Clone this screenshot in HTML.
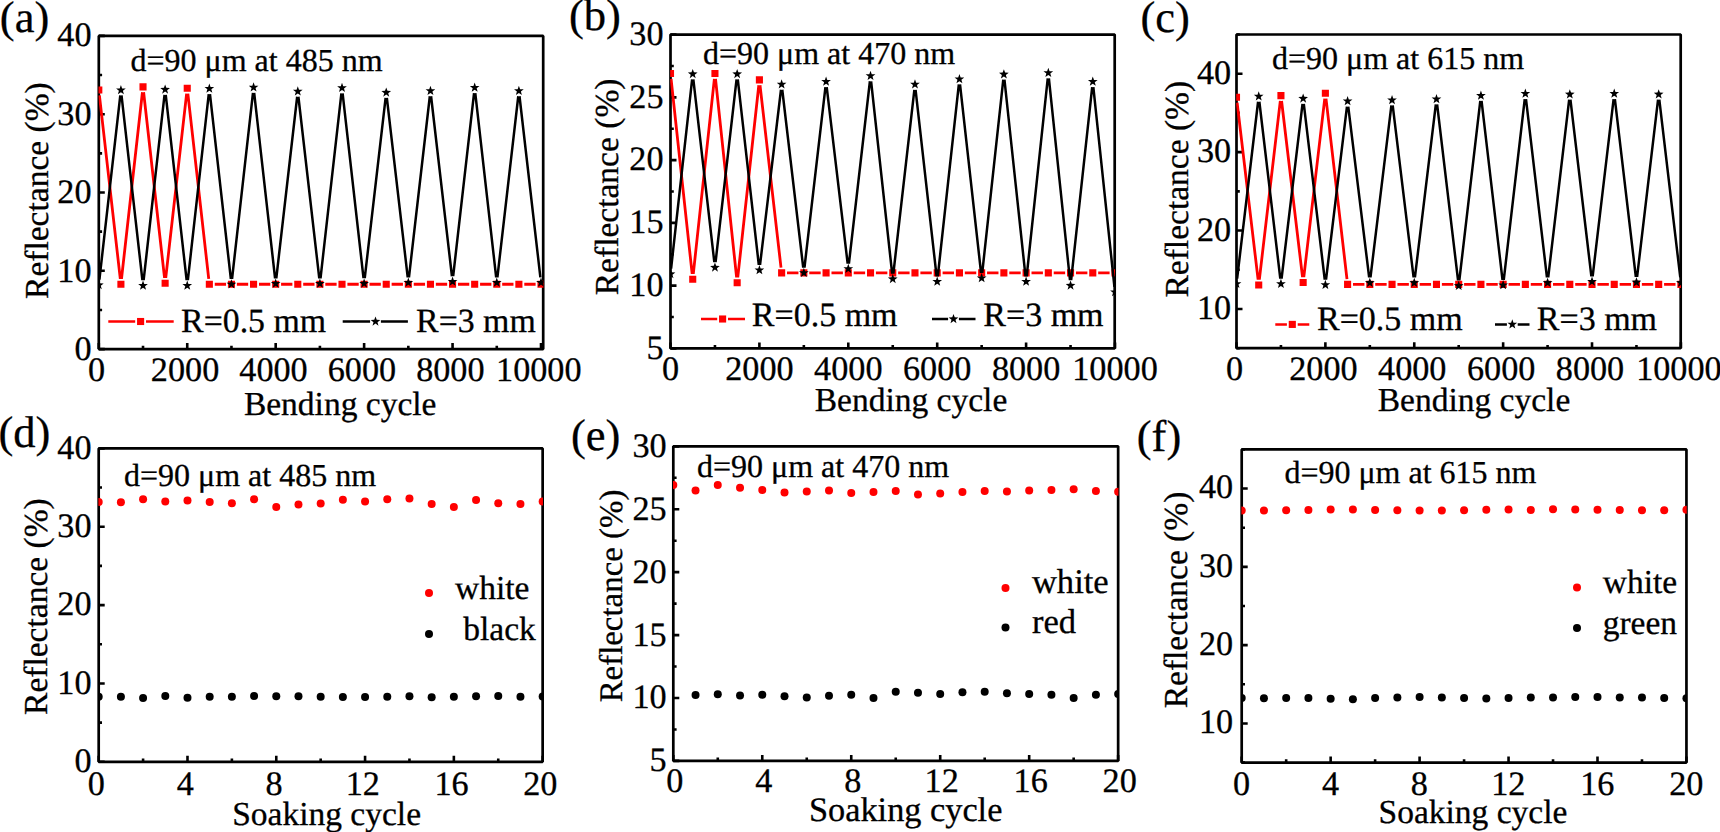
<!DOCTYPE html>
<html lang="en"><head><meta charset="utf-8"><title>Reflectance vs bending and soaking cycles</title>
<style>html,body{margin:0;padding:0;background:#fff;overflow:hidden}svg{display:block}text{font-family:'Liberation Serif', 'Times New Roman', serif;fill:#000;stroke:#000;stroke-width:0.3px}</style>
</head><body>
<svg width="1720" height="832" viewBox="0 0 1720 832" shape-rendering="geometricPrecision" text-rendering="geometricPrecision">
<rect width="1720" height="832" fill="#fff"/>
<g>
<clipPath id="c1"><rect x="98.5" y="35.6" width="445" height="313.8"/></clipPath>
<path d="M98.8 349.1V343.1M187.24 349.1V343.1M275.68 349.1V343.1M364.12 349.1V343.1M452.56 349.1V343.1M541 349.1V343.1M143.02 349.1V345.8M231.46 349.1V345.8M319.9 349.1V345.8M408.34 349.1V345.8M496.78 349.1V345.8M98.8 349.1H104.8M98.8 270.8H104.8M98.8 192.5H104.8M98.8 114.2H104.8M98.8 35.9H104.8M98.8 309.95H102.1M98.8 231.65H102.1M98.8 153.35H102.1M98.8 75.05H102.1" stroke="#000" stroke-width="2.6" fill="none"/>
<rect x="98.8" y="35.9" width="444.4" height="313.2" fill="none" stroke="#000" stroke-width="2.7" stroke-linejoin="bevel"/>
<g clip-path="url(#c1)">
<path d="M99.41 95.37L120.3 278.88M121.51 278.88L142.42 92.22M143.62 92.22L164.53 277.83M165.74 277.83L186.63 93.57M187.85 93.57L208.74 278.88M214.75 284.25L226.06 284.25M236.86 284.25L248.17 284.25M258.97 284.25L270.28 284.25M281.08 284.25L292.39 284.25M303.19 284.25L314.5 284.25M325.3 284.25L336.61 284.25M347.41 284.25L358.72 284.25M369.52 284.25L380.83 284.25M391.63 284.25L402.94 284.25M413.74 284.25L425.05 284.25M435.85 284.25L447.16 284.25M457.96 284.25L469.27 284.25M480.07 284.25L491.38 284.25M502.18 284.25L513.49 284.25M524.29 284.25L535.6 284.25" stroke="#ff0000" stroke-width="2.8" fill="none"/>
<path d="M95.25 86.45h7.1v7.1h-7.1zM117.36 280.7h7.1v7.1h-7.1zM139.47 83.3h7.1v7.1h-7.1zM161.58 279.65h7.1v7.1h-7.1zM183.69 84.65h7.1v7.1h-7.1zM205.8 280.7h7.1v7.1h-7.1zM227.91 280.7h7.1v7.1h-7.1zM250.02 280.7h7.1v7.1h-7.1zM272.13 280.7h7.1v7.1h-7.1zM294.24 280.7h7.1v7.1h-7.1zM316.35 280.7h7.1v7.1h-7.1zM338.46 280.7h7.1v7.1h-7.1zM360.57 280.7h7.1v7.1h-7.1zM382.68 280.7h7.1v7.1h-7.1zM404.79 280.7h7.1v7.1h-7.1zM426.9 280.7h7.1v7.1h-7.1zM449.01 280.7h7.1v7.1h-7.1zM471.12 280.7h7.1v7.1h-7.1zM493.23 280.7h7.1v7.1h-7.1zM515.34 280.7h7.1v7.1h-7.1zM537.45 280.7h7.1v7.1h-7.1z" fill="#ff0000"/>
<path d="M99.41 279.63L120.3 95.47M121.52 95.47L142.41 280.23M143.63 280.23L164.52 94.87M165.74 94.87L186.63 280.23M187.84 280.23L208.75 94.07M209.96 94.07L230.85 278.88M232.06 278.88L252.97 92.77M254.17 92.77L275.08 278.33M276.3 278.34L297.17 96.76M298.41 96.76L319.28 278.34M320.51 278.33L341.4 93.27M342.62 93.27L363.51 278.13M364.74 278.14L385.61 97.86M386.85 97.86L407.72 277.29M408.96 277.29L429.83 96.26M431.07 96.26L451.94 276.24M453.17 276.23L474.06 93.02M475.28 93.02L496.17 277.28M497.4 277.29L518.27 96.26M519.51 96.26L540.38 277.29" stroke="#000000" stroke-width="2.5" fill="none"/>
<path d="M98.8 279.9L100.03 283.31L103.65 283.42L100.79 285.65L101.8 289.13L98.8 287.09L95.8 289.13L96.81 285.65L93.95 283.42L97.57 283.31ZM120.91 85L122.14 88.41L125.76 88.52L122.9 90.75L123.91 94.23L120.91 92.19L117.91 94.23L118.92 90.75L116.06 88.52L119.68 88.41ZM143.02 280.5L144.25 283.91L147.87 284.02L145.01 286.25L146.02 289.73L143.02 287.69L140.02 289.73L141.03 286.25L138.17 284.02L141.79 283.91ZM165.13 84.4L166.36 87.81L169.98 87.92L167.12 90.15L168.13 93.63L165.13 91.59L162.13 93.63L163.14 90.15L160.28 87.92L163.9 87.81ZM187.24 280.5L188.47 283.91L192.09 284.02L189.23 286.25L190.24 289.73L187.24 287.69L184.24 289.73L185.25 286.25L182.39 284.02L186.01 283.91ZM209.35 83.6L210.58 87.01L214.2 87.12L211.34 89.35L212.35 92.83L209.35 90.79L206.35 92.83L207.36 89.35L204.5 87.12L208.12 87.01ZM231.46 279.15L232.69 282.56L236.31 282.67L233.45 284.9L234.46 288.38L231.46 286.34L228.46 288.38L229.47 284.9L226.61 282.67L230.23 282.56ZM253.57 82.3L254.8 85.71L258.42 85.82L255.56 88.05L256.57 91.53L253.57 89.49L250.57 91.53L251.58 88.05L248.72 85.82L252.34 85.71ZM275.68 278.6L276.91 282.01L280.53 282.12L277.67 284.35L278.68 287.83L275.68 285.79L272.68 287.83L273.69 284.35L270.83 282.12L274.45 282.01ZM297.79 86.3L299.02 89.71L302.64 89.82L299.78 92.05L300.79 95.53L297.79 93.49L294.79 95.53L295.8 92.05L292.94 89.82L296.56 89.71ZM319.9 278.6L321.13 282.01L324.75 282.12L321.89 284.35L322.9 287.83L319.9 285.79L316.9 287.83L317.91 284.35L315.05 282.12L318.67 282.01ZM342.01 82.8L343.24 86.21L346.86 86.32L344 88.55L345.01 92.03L342.01 89.99L339.01 92.03L340.02 88.55L337.16 86.32L340.78 86.21ZM364.12 278.4L365.35 281.81L368.97 281.92L366.11 284.15L367.12 287.63L364.12 285.59L361.12 287.63L362.13 284.15L359.27 281.92L362.89 281.81ZM386.23 87.4L387.46 90.81L391.08 90.92L388.22 93.15L389.23 96.63L386.23 94.59L383.23 96.63L384.24 93.15L381.38 90.92L385 90.81ZM408.34 277.55L409.57 280.96L413.19 281.07L410.33 283.3L411.34 286.78L408.34 284.74L405.34 286.78L406.35 283.3L403.49 281.07L407.11 280.96ZM430.45 85.8L431.68 89.21L435.3 89.32L432.44 91.55L433.45 95.03L430.45 92.99L427.45 95.03L428.46 91.55L425.6 89.32L429.22 89.21ZM452.56 276.5L453.79 279.91L457.41 280.02L454.55 282.25L455.56 285.73L452.56 283.69L449.56 285.73L450.57 282.25L447.71 280.02L451.33 279.91ZM474.67 82.55L475.9 85.96L479.52 86.07L476.66 88.3L477.67 91.78L474.67 89.74L471.67 91.78L472.68 88.3L469.82 86.07L473.44 85.96ZM496.78 277.55L498.01 280.96L501.63 281.07L498.77 283.3L499.78 286.78L496.78 284.74L493.78 286.78L494.79 283.3L491.93 281.07L495.55 280.96ZM518.89 85.8L520.12 89.21L523.74 89.32L520.88 91.55L521.89 95.03L518.89 92.99L515.89 95.03L516.9 91.55L514.04 89.32L517.66 89.21ZM541 277.55L542.23 280.96L545.85 281.07L542.99 283.3L544 286.78L541 284.74L538 286.78L539.01 283.3L536.15 281.07L539.77 280.96Z" fill="#000000"/>
</g>
<text x="96.6" y="380.95" font-size="34.2" text-anchor="middle">0</text>
<text x="185.04" y="380.95" font-size="34.2" text-anchor="middle">2000</text>
<text x="273.48" y="380.95" font-size="34.2" text-anchor="middle">4000</text>
<text x="361.92" y="380.95" font-size="34.2" text-anchor="middle">6000</text>
<text x="450.36" y="380.95" font-size="34.2" text-anchor="middle">8000</text>
<text x="538.8" y="380.95" font-size="34.2" text-anchor="middle">10000</text>
<text x="91.5" y="359.85" font-size="34.2" text-anchor="end">0</text>
<text x="91.5" y="281.55" font-size="34.2" text-anchor="end">10</text>
<text x="91.5" y="203.25" font-size="34.2" text-anchor="end">20</text>
<text x="91.5" y="124.95" font-size="34.2" text-anchor="end">30</text>
<text x="91.5" y="45.85" font-size="34.2" text-anchor="end">40</text>
<text x="340.2" y="414.8" font-size="33.5" text-anchor="middle">Bending cycle</text>
<text transform="translate(47.7 190.6) rotate(-90)" font-size="33.5" text-anchor="middle">Reflectance (%)</text>
<text x="130.5" y="70.9" font-size="32" text-anchor="start">d=90 μm at 485 nm</text>
<text x="-0.15" y="32.15" font-size="44.5" text-anchor="start">(a)</text>
<path d="M108.3 321.5H135.2M146 321.5H173.7" stroke="#ff0000" stroke-width="2.5"/>
<rect x="137.05" y="317.95" width="7.1" height="7.1" fill="#ff0000"/>
<text x="181.1" y="331.5" font-size="33.85" text-anchor="start">R=0.5 mm</text>
<path d="M342.7 321.5H370.1M380.9 321.5H407.9" stroke="#000000" stroke-width="2.5"/>
<path d="M375.5 316.4L376.73 319.81L380.35 319.92L377.49 322.15L378.5 325.63L375.5 323.59L372.5 325.63L373.51 322.15L370.65 319.92L374.27 319.81Z" fill="#000000"/>
<text x="416.1" y="331.5" font-size="33.85" text-anchor="start">R=3 mm</text>
</g>
<g>
<clipPath id="c2"><rect x="670.2" y="34.3" width="444.8" height="314.4"/></clipPath>
<path d="M670.5 348.4V342.4M759.4 348.4V342.4M848.3 348.4V342.4M937.2 348.4V342.4M1026.1 348.4V342.4M1115 348.4V342.4M714.95 348.4V345.1M803.85 348.4V345.1M892.75 348.4V345.1M981.65 348.4V345.1M1070.55 348.4V345.1M670.5 348.4H676.5M670.5 285.64H676.5M670.5 222.88H676.5M670.5 160.12H676.5M670.5 97.36H676.5M670.5 34.6H676.5M670.5 317.02H673.8M670.5 254.26H673.8M670.5 191.5H673.8M670.5 128.74H673.8M670.5 65.98H673.8" stroke="#000" stroke-width="2.6" fill="none"/>
<rect x="670.5" y="34.6" width="444.2" height="313.8" fill="none" stroke="#000" stroke-width="2.7" stroke-linejoin="bevel"/>
<g clip-path="url(#c2)">
<path d="M671.08 78.87L692.15 273.93M693.3 273.93L714.37 78.87M715.52 78.87L736.6 277.43M737.76 277.43L758.81 85.27M760.02 85.26L781.01 267.54M787.02 272.9L798.45 272.9M809.25 272.9L820.68 272.9M831.48 272.9L842.9 272.9M853.7 272.9L865.12 272.9M875.92 272.9L887.35 272.9M898.15 272.9L909.58 272.9M920.38 272.9L931.8 272.9M942.6 272.9L954.02 272.9M964.82 272.9L976.25 272.9M987.05 272.9L998.48 272.9M1009.27 272.9L1020.7 272.9M1031.5 272.9L1042.92 272.9M1053.73 272.9L1065.15 272.9M1075.95 272.9L1087.38 272.9M1098.18 272.9L1109.6 272.9" stroke="#ff0000" stroke-width="2.8" fill="none"/>
<path d="M666.95 69.95h7.1v7.1h-7.1zM689.18 275.75h7.1v7.1h-7.1zM711.4 69.95h7.1v7.1h-7.1zM733.62 279.25h7.1v7.1h-7.1zM755.85 76.35h7.1v7.1h-7.1zM778.08 269.35h7.1v7.1h-7.1zM800.3 269.35h7.1v7.1h-7.1zM822.53 269.35h7.1v7.1h-7.1zM844.75 269.35h7.1v7.1h-7.1zM866.98 269.35h7.1v7.1h-7.1zM889.2 269.35h7.1v7.1h-7.1zM911.43 269.35h7.1v7.1h-7.1zM933.65 269.35h7.1v7.1h-7.1zM955.88 269.35h7.1v7.1h-7.1zM978.1 269.35h7.1v7.1h-7.1zM1000.33 269.35h7.1v7.1h-7.1zM1022.55 269.35h7.1v7.1h-7.1zM1044.78 269.35h7.1v7.1h-7.1zM1067 269.35h7.1v7.1h-7.1zM1089.23 269.35h7.1v7.1h-7.1zM1111.45 269.35h7.1v7.1h-7.1z" fill="#ff0000"/>
<path d="M671.1 268.63L692.13 79.37M693.34 79.36L714.33 262.14M715.57 262.14L736.56 79.36M737.78 79.37L758.79 264.83M760.04 264.84L780.98 89.76M782.26 89.76L803.22 267.54M804.47 267.54L825.45 87.06M826.71 87.06L847.66 263.54M848.92 263.54L869.91 81.26M871.11 81.27L892.16 273.63M893.36 273.63L914.36 89.77M915.58 89.77L936.6 276.33M937.79 276.33L958.84 84.47M960.02 84.47L981.05 272.83M982.24 272.83L1003.29 79.67M1004.45 79.67L1025.52 276.33M1026.67 276.33L1047.75 78.27M1048.89 78.27L1069.99 280.13M1071.14 280.13L1092.19 87.07M1093.34 87.07L1114.43 286.83" stroke="#000000" stroke-width="2.5" fill="none"/>
<path d="M670.5 268.9L671.73 272.31L675.35 272.42L672.49 274.65L673.5 278.13L670.5 276.09L667.5 278.13L668.51 274.65L665.65 272.42L669.27 272.31ZM692.73 68.9L693.95 72.31L697.58 72.42L694.71 74.65L695.72 78.13L692.73 76.09L689.73 78.13L690.74 74.65L687.87 72.42L691.5 72.31ZM714.95 262.4L716.18 265.81L719.8 265.92L716.94 268.15L717.95 271.63L714.95 269.59L711.95 271.63L712.96 268.15L710.1 265.92L713.72 265.81ZM737.17 68.9L738.4 72.31L742.03 72.42L739.16 74.65L740.17 78.13L737.17 76.09L734.18 78.13L735.19 74.65L732.32 72.42L735.95 72.31ZM759.4 265.1L760.63 268.51L764.25 268.62L761.39 270.85L762.4 274.33L759.4 272.29L756.4 274.33L757.41 270.85L754.55 268.62L758.17 268.51ZM781.62 79.3L782.85 82.71L786.48 82.82L783.61 85.05L784.62 88.53L781.62 86.49L778.63 88.53L779.64 85.05L776.77 82.82L780.4 82.71ZM803.85 267.8L805.08 271.21L808.7 271.32L805.84 273.55L806.85 277.03L803.85 274.99L800.85 277.03L801.86 273.55L799 271.32L802.62 271.21ZM826.08 76.6L827.3 80.01L830.93 80.12L828.06 82.35L829.07 85.83L826.08 83.79L823.08 85.83L824.09 82.35L821.22 80.12L824.85 80.01ZM848.3 263.8L849.53 267.21L853.15 267.32L850.29 269.55L851.3 273.03L848.3 270.99L845.3 273.03L846.31 269.55L843.45 267.32L847.07 267.21ZM870.52 70.8L871.75 74.21L875.38 74.32L872.51 76.55L873.52 80.03L870.52 77.99L867.53 80.03L868.54 76.55L865.67 74.32L869.3 74.21ZM892.75 273.9L893.98 277.31L897.6 277.42L894.74 279.65L895.75 283.13L892.75 281.09L889.75 283.13L890.76 279.65L887.9 277.42L891.52 277.31ZM914.98 79.3L916.2 82.71L919.83 82.82L916.96 85.05L917.97 88.53L914.98 86.49L911.98 88.53L912.99 85.05L910.12 82.82L913.75 82.71ZM937.2 276.6L938.43 280.01L942.05 280.12L939.19 282.35L940.2 285.83L937.2 283.79L934.2 285.83L935.21 282.35L932.35 280.12L935.97 280.01ZM959.42 74L960.65 77.41L964.28 77.52L961.41 79.75L962.42 83.23L959.42 81.19L956.43 83.23L957.44 79.75L954.57 77.52L958.2 77.41ZM981.65 273.1L982.88 276.51L986.5 276.62L983.64 278.85L984.65 282.33L981.65 280.29L978.65 282.33L979.66 278.85L976.8 276.62L980.42 276.51ZM1003.88 69.2L1005.1 72.61L1008.73 72.72L1005.86 74.95L1006.87 78.43L1003.88 76.39L1000.88 78.43L1001.89 74.95L999.02 72.72L1002.65 72.61ZM1026.1 276.6L1027.33 280.01L1030.95 280.12L1028.09 282.35L1029.1 285.83L1026.1 283.79L1023.1 285.83L1024.11 282.35L1021.25 280.12L1024.87 280.01ZM1048.33 67.8L1049.55 71.21L1053.18 71.32L1050.31 73.55L1051.32 77.03L1048.33 74.99L1045.33 77.03L1046.34 73.55L1043.47 71.32L1047.1 71.21ZM1070.55 280.4L1071.78 283.81L1075.4 283.92L1072.54 286.15L1073.55 289.63L1070.55 287.59L1067.55 289.63L1068.56 286.15L1065.7 283.92L1069.32 283.81ZM1092.78 76.6L1094 80.01L1097.63 80.12L1094.76 82.35L1095.77 85.83L1092.78 83.79L1089.78 85.83L1090.79 82.35L1087.92 80.12L1091.55 80.01ZM1115 287.1L1116.23 290.51L1119.85 290.62L1116.99 292.85L1118 296.33L1115 294.29L1112 296.33L1113.01 292.85L1110.15 290.62L1113.77 290.51Z" fill="#000000"/>
</g>
<text x="670.5" y="380.2" font-size="34.2" text-anchor="middle">0</text>
<text x="759.4" y="380.2" font-size="34.2" text-anchor="middle">2000</text>
<text x="848.3" y="380.2" font-size="34.2" text-anchor="middle">4000</text>
<text x="937.2" y="380.2" font-size="34.2" text-anchor="middle">6000</text>
<text x="1026.1" y="380.2" font-size="34.2" text-anchor="middle">8000</text>
<text x="1115" y="380.2" font-size="34.2" text-anchor="middle">10000</text>
<text x="663.5" y="358.65" font-size="34.2" text-anchor="end">5</text>
<text x="663.5" y="295.89" font-size="34.2" text-anchor="end">10</text>
<text x="663.5" y="233.13" font-size="34.2" text-anchor="end">15</text>
<text x="663.5" y="170.37" font-size="34.2" text-anchor="end">20</text>
<text x="663.5" y="107.61" font-size="34.2" text-anchor="end">25</text>
<text x="663.5" y="44.85" font-size="34.2" text-anchor="end">30</text>
<text x="911" y="411" font-size="33.5" text-anchor="middle">Bending cycle</text>
<text transform="translate(618.4 186.9) rotate(-90)" font-size="33.5" text-anchor="middle">Reflectance (%)</text>
<text x="703" y="63.5" font-size="32" text-anchor="start">d=90 μm at 470 nm</text>
<text x="569" y="29.8" font-size="44.5" text-anchor="start">(b)</text>
<path d="M701 319H717.2M728 319H745" stroke="#ff0000" stroke-width="2.5"/>
<rect x="719.05" y="315.45" width="7.1" height="7.1" fill="#ff0000"/>
<text x="751.8" y="325.8" font-size="34" text-anchor="start">R=0.5 mm</text>
<path d="M932 319H948.1M958.9 319H975.5" stroke="#000000" stroke-width="2.5"/>
<path d="M953.5 313.9L954.73 317.31L958.35 317.42L955.49 319.65L956.5 323.13L953.5 321.09L950.5 323.13L951.51 319.65L948.65 317.42L952.27 317.31Z" fill="#000000"/>
<text x="983.3" y="325.8" font-size="34" text-anchor="start">R=3 mm</text>
</g>
<g>
<clipPath id="c3"><rect x="1236.2" y="34.2" width="444.8" height="314.3"/></clipPath>
<path d="M1236.5 348.2V342.2M1325.38 348.2V342.2M1414.26 348.2V342.2M1503.14 348.2V342.2M1592.02 348.2V342.2M1680.9 348.2V342.2M1280.94 348.2V344.9M1369.82 348.2V344.9M1458.7 348.2V344.9M1547.58 348.2V344.9M1636.46 348.2V344.9M1236.5 308.99H1242.5M1236.5 230.56H1242.5M1236.5 152.14H1242.5M1236.5 73.71H1242.5M1236.5 348.2H1239.8M1236.5 269.77H1239.8M1236.5 191.35H1239.8M1236.5 112.92H1239.8M1236.5 34.5H1239.8" stroke="#000" stroke-width="2.6" fill="none"/>
<rect x="1236.5" y="34.5" width="444.2" height="313.7" fill="none" stroke="#000" stroke-width="2.7" stroke-linejoin="bevel"/>
<g clip-path="url(#c3)">
<path d="M1237.13 102.56L1258.09 279.59M1259.35 279.59L1280.31 100.96M1281.58 100.96L1302.52 277.14M1303.79 277.14L1324.75 98.56M1326 98.56L1346.98 279.04M1353 284.4L1364.42 284.4M1375.22 284.4L1386.64 284.4M1397.44 284.4L1408.86 284.4M1419.66 284.4L1431.08 284.4M1441.88 284.4L1453.3 284.4M1464.1 284.4L1475.52 284.4M1486.32 284.4L1497.74 284.4M1508.54 284.4L1519.96 284.4M1530.76 284.4L1542.18 284.4M1552.98 284.4L1564.4 284.4M1575.2 284.4L1586.62 284.4M1597.42 284.4L1608.84 284.4M1619.64 284.4L1631.06 284.4M1641.86 284.4L1653.28 284.4M1664.08 284.4L1675.5 284.4" stroke="#ff0000" stroke-width="2.8" fill="none"/>
<path d="M1232.95 93.65h7.1v7.1h-7.1zM1255.17 281.4h7.1v7.1h-7.1zM1277.39 92.05h7.1v7.1h-7.1zM1299.61 278.95h7.1v7.1h-7.1zM1321.83 89.65h7.1v7.1h-7.1zM1344.05 280.85h7.1v7.1h-7.1zM1366.27 280.85h7.1v7.1h-7.1zM1388.49 280.85h7.1v7.1h-7.1zM1410.71 280.85h7.1v7.1h-7.1zM1432.93 280.85h7.1v7.1h-7.1zM1455.15 280.85h7.1v7.1h-7.1zM1477.37 280.85h7.1v7.1h-7.1zM1499.59 280.85h7.1v7.1h-7.1zM1521.81 280.85h7.1v7.1h-7.1zM1544.03 280.85h7.1v7.1h-7.1zM1566.25 280.85h7.1v7.1h-7.1zM1588.47 280.85h7.1v7.1h-7.1zM1610.69 280.85h7.1v7.1h-7.1zM1632.91 280.85h7.1v7.1h-7.1zM1655.13 280.85h7.1v7.1h-7.1zM1677.35 280.85h7.1v7.1h-7.1z" fill="#ff0000"/>
<path d="M1237.14 278.54L1258.08 101.76M1259.36 101.76L1280.3 278.54M1281.58 278.54L1302.52 103.86M1303.8 103.86L1324.74 279.59M1326.03 279.59L1346.95 106.56M1348.26 106.56L1369.16 277.44M1370.47 277.44L1391.39 105.46M1392.69 105.46L1413.61 277.44M1414.91 277.44L1435.83 104.46M1437.12 104.46L1458.06 280.44M1459.33 280.44L1480.29 100.96M1481.55 100.96L1502.51 279.84M1503.76 279.84L1524.74 99.06M1525.99 99.06L1546.95 277.44M1548.21 277.44L1569.17 99.66M1570.44 99.66L1591.38 276.34M1592.65 276.34L1613.61 99.06M1614.87 99.06L1635.83 276.94M1637.09 276.94L1658.05 99.66M1659.31 99.66L1680.27 277.44" stroke="#000000" stroke-width="2.5" fill="none"/>
<path d="M1236.5 278.8L1237.73 282.21L1241.35 282.32L1238.49 284.55L1239.5 288.03L1236.5 285.99L1233.5 288.03L1234.51 284.55L1231.65 282.32L1235.27 282.21ZM1258.72 91.3L1259.95 94.71L1263.57 94.82L1260.71 97.05L1261.72 100.53L1258.72 98.49L1255.72 100.53L1256.73 97.05L1253.87 94.82L1257.49 94.71ZM1280.94 278.8L1282.17 282.21L1285.79 282.32L1282.93 284.55L1283.94 288.03L1280.94 285.99L1277.94 288.03L1278.95 284.55L1276.09 282.32L1279.71 282.21ZM1303.16 93.4L1304.39 96.81L1308.01 96.92L1305.15 99.15L1306.16 102.63L1303.16 100.59L1300.16 102.63L1301.17 99.15L1298.31 96.92L1301.93 96.81ZM1325.38 279.85L1326.61 283.26L1330.23 283.37L1327.37 285.6L1328.38 289.08L1325.38 287.04L1322.38 289.08L1323.39 285.6L1320.53 283.37L1324.15 283.26ZM1347.6 96.1L1348.83 99.51L1352.45 99.62L1349.59 101.85L1350.6 105.33L1347.6 103.29L1344.6 105.33L1345.61 101.85L1342.75 99.62L1346.37 99.51ZM1369.82 277.7L1371.05 281.11L1374.67 281.22L1371.81 283.45L1372.82 286.93L1369.82 284.89L1366.82 286.93L1367.83 283.45L1364.97 281.22L1368.59 281.11ZM1392.04 95L1393.27 98.41L1396.89 98.52L1394.03 100.75L1395.04 104.23L1392.04 102.19L1389.04 104.23L1390.05 100.75L1387.19 98.52L1390.81 98.41ZM1414.26 277.7L1415.49 281.11L1419.11 281.22L1416.25 283.45L1417.26 286.93L1414.26 284.89L1411.26 286.93L1412.27 283.45L1409.41 281.22L1413.03 281.11ZM1436.48 94L1437.71 97.41L1441.33 97.52L1438.47 99.75L1439.48 103.23L1436.48 101.19L1433.48 103.23L1434.49 99.75L1431.63 97.52L1435.25 97.41ZM1458.7 280.7L1459.93 284.11L1463.55 284.22L1460.69 286.45L1461.7 289.93L1458.7 287.89L1455.7 289.93L1456.71 286.45L1453.85 284.22L1457.47 284.11ZM1480.92 90.5L1482.15 93.91L1485.77 94.02L1482.91 96.25L1483.92 99.73L1480.92 97.69L1477.92 99.73L1478.93 96.25L1476.07 94.02L1479.69 93.91ZM1503.14 280.1L1504.37 283.51L1507.99 283.62L1505.13 285.85L1506.14 289.33L1503.14 287.29L1500.14 289.33L1501.15 285.85L1498.29 283.62L1501.91 283.51ZM1525.36 88.6L1526.59 92.01L1530.21 92.12L1527.35 94.35L1528.36 97.83L1525.36 95.79L1522.36 97.83L1523.37 94.35L1520.51 92.12L1524.13 92.01ZM1547.58 277.7L1548.81 281.11L1552.43 281.22L1549.57 283.45L1550.58 286.93L1547.58 284.89L1544.58 286.93L1545.59 283.45L1542.73 281.22L1546.35 281.11ZM1569.8 89.2L1571.03 92.61L1574.65 92.72L1571.79 94.95L1572.8 98.43L1569.8 96.39L1566.8 98.43L1567.81 94.95L1564.95 92.72L1568.57 92.61ZM1592.02 276.6L1593.25 280.01L1596.87 280.12L1594.01 282.35L1595.02 285.83L1592.02 283.79L1589.02 285.83L1590.03 282.35L1587.17 280.12L1590.79 280.01ZM1614.24 88.6L1615.47 92.01L1619.09 92.12L1616.23 94.35L1617.24 97.83L1614.24 95.79L1611.24 97.83L1612.25 94.35L1609.39 92.12L1613.01 92.01ZM1636.46 277.2L1637.69 280.61L1641.31 280.72L1638.45 282.95L1639.46 286.43L1636.46 284.39L1633.46 286.43L1634.47 282.95L1631.61 280.72L1635.23 280.61ZM1658.68 89.2L1659.91 92.61L1663.53 92.72L1660.67 94.95L1661.68 98.43L1658.68 96.39L1655.68 98.43L1656.69 94.95L1653.83 92.72L1657.45 92.61ZM1680.9 277.7L1682.13 281.11L1685.75 281.22L1682.89 283.45L1683.9 286.93L1680.9 284.89L1677.9 286.93L1678.91 283.45L1676.05 281.22L1679.67 281.11Z" fill="#000000"/>
</g>
<text x="1234.5" y="380.2" font-size="34.2" text-anchor="middle">0</text>
<text x="1323.38" y="380.2" font-size="34.2" text-anchor="middle">2000</text>
<text x="1412.26" y="380.2" font-size="34.2" text-anchor="middle">4000</text>
<text x="1501.14" y="380.2" font-size="34.2" text-anchor="middle">6000</text>
<text x="1590.02" y="380.2" font-size="34.2" text-anchor="middle">8000</text>
<text x="1678.9" y="380.2" font-size="34.2" text-anchor="middle">10000</text>
<text x="1231.2" y="318.94" font-size="34.2" text-anchor="end">10</text>
<text x="1231.2" y="240.51" font-size="34.2" text-anchor="end">20</text>
<text x="1231.2" y="162.09" font-size="34.2" text-anchor="end">30</text>
<text x="1231.2" y="83.66" font-size="34.2" text-anchor="end">40</text>
<text x="1474" y="411" font-size="33.5" text-anchor="middle">Bending cycle</text>
<text transform="translate(1188.3 189.2) rotate(-90)" font-size="33.5" text-anchor="middle">Reflectance (%)</text>
<text x="1272" y="69.4" font-size="32" text-anchor="start">d=90 μm at 615 nm</text>
<text x="1140.5" y="31.8" font-size="44.5" text-anchor="start">(c)</text>
<path d="M1275.3 324.4H1286.9M1297.7 324.4H1309.3" stroke="#ff0000" stroke-width="2.5"/>
<rect x="1288.75" y="320.85" width="7.1" height="7.1" fill="#ff0000"/>
<text x="1317" y="329.6" font-size="34" text-anchor="start">R=0.5 mm</text>
<path d="M1495 324.4H1506.9M1517.7 324.4H1529.5" stroke="#000000" stroke-width="2.5"/>
<path d="M1512.3 319.3L1513.53 322.71L1517.15 322.82L1514.29 325.05L1515.3 328.53L1512.3 326.49L1509.3 328.53L1510.31 325.05L1507.45 322.82L1511.07 322.71Z" fill="#000000"/>
<text x="1536.8" y="329.6" font-size="34" text-anchor="start">R=3 mm</text>
</g>
<g>
<clipPath id="c4"><rect x="98.4" y="448.1" width="444.55" height="314"/></clipPath>
<path d="M98.7 761.8V755.8M187.49 761.8V755.8M276.28 761.8V755.8M365.07 761.8V755.8M453.86 761.8V755.8M542.65 761.8V755.8M143.09 761.8V758.5M231.88 761.8V758.5M320.67 761.8V758.5M409.46 761.8V758.5M498.25 761.8V758.5M98.7 761.8H104.7M98.7 683.45H104.7M98.7 605.1H104.7M98.7 526.75H104.7M98.7 448.4H104.7M98.7 722.62H102M98.7 644.27H102M98.7 565.92H102M98.7 487.57H102" stroke="#000" stroke-width="2.6" fill="none"/>
<rect x="98.7" y="448.4" width="443.95" height="313.4" fill="none" stroke="#000" stroke-width="2.7" stroke-linejoin="bevel"/>
<g clip-path="url(#c4)">
<g fill="#ff0000"><circle cx="98.7" cy="501.9" r="4"/><circle cx="120.9" cy="502.2" r="4"/><circle cx="143.09" cy="499.3" r="4"/><circle cx="165.29" cy="501.4" r="4"/><circle cx="187.49" cy="500.6" r="4"/><circle cx="209.69" cy="501.9" r="4"/><circle cx="231.88" cy="503.3" r="4"/><circle cx="254.08" cy="499.3" r="4"/><circle cx="276.28" cy="507" r="4"/><circle cx="298.48" cy="504.6" r="4"/><circle cx="320.67" cy="503.5" r="4"/><circle cx="342.87" cy="499.8" r="4"/><circle cx="365.07" cy="501.4" r="4"/><circle cx="387.27" cy="499.3" r="4"/><circle cx="409.46" cy="498.5" r="4"/><circle cx="431.66" cy="504.1" r="4"/><circle cx="453.86" cy="507" r="4"/><circle cx="476.06" cy="500.1" r="4"/><circle cx="498.25" cy="503.3" r="4"/><circle cx="520.45" cy="504.1" r="4"/><circle cx="542.65" cy="501.4" r="4"/></g>
<g fill="#000000"><circle cx="98.7" cy="696.7" r="4"/><circle cx="120.9" cy="696.7" r="4"/><circle cx="143.09" cy="698.1" r="4"/><circle cx="165.29" cy="695.9" r="4"/><circle cx="187.49" cy="697.8" r="4"/><circle cx="209.69" cy="696.7" r="4"/><circle cx="231.88" cy="696.7" r="4"/><circle cx="254.08" cy="695.9" r="4"/><circle cx="276.28" cy="696.2" r="4"/><circle cx="298.48" cy="696.2" r="4"/><circle cx="320.67" cy="696.7" r="4"/><circle cx="342.87" cy="697" r="4"/><circle cx="365.07" cy="697" r="4"/><circle cx="387.27" cy="696.7" r="4"/><circle cx="409.46" cy="696.2" r="4"/><circle cx="431.66" cy="697.3" r="4"/><circle cx="453.86" cy="696.7" r="4"/><circle cx="476.06" cy="696.2" r="4"/><circle cx="498.25" cy="695.9" r="4"/><circle cx="520.45" cy="696.7" r="4"/><circle cx="542.65" cy="696.5" r="4"/></g>
</g>
<text x="96.4" y="795.4" font-size="34.2" text-anchor="middle">0</text>
<text x="185.19" y="795.4" font-size="34.2" text-anchor="middle">4</text>
<text x="273.98" y="795.4" font-size="34.2" text-anchor="middle">8</text>
<text x="362.77" y="795.4" font-size="34.2" text-anchor="middle">12</text>
<text x="451.56" y="795.4" font-size="34.2" text-anchor="middle">16</text>
<text x="540.35" y="795.4" font-size="34.2" text-anchor="middle">20</text>
<text x="91.5" y="772.05" font-size="34.2" text-anchor="end">0</text>
<text x="91.5" y="693.7" font-size="34.2" text-anchor="end">10</text>
<text x="91.5" y="615.35" font-size="34.2" text-anchor="end">20</text>
<text x="91.5" y="537" font-size="34.2" text-anchor="end">30</text>
<text x="91.5" y="458.65" font-size="34.2" text-anchor="end">40</text>
<text x="326.6" y="825.1" font-size="33.5" text-anchor="middle">Soaking cycle</text>
<text transform="translate(46.8 606.6) rotate(-90)" font-size="33.5" text-anchor="middle">Reflectance (%)</text>
<text x="124" y="485.7" font-size="32" text-anchor="start">d=90 μm at 485 nm</text>
<text x="-1.5" y="447.2" font-size="44.5" text-anchor="start">(d)</text>
<circle cx="429" cy="593" r="4" fill="#ff0000"/>
<circle cx="429" cy="634" r="4" fill="#000000"/>
<text x="455" y="599" font-size="33.5" text-anchor="start">white</text>
<text x="463.3" y="640" font-size="33.5" text-anchor="start">black</text>
</g>
<g>
<clipPath id="c5"><rect x="673" y="446.05" width="445.45" height="315.15"/></clipPath>
<path d="M673.3 760.9V754.9M762.27 760.9V754.9M851.24 760.9V754.9M940.21 760.9V754.9M1029.18 760.9V754.9M1118.15 760.9V754.9M717.78 760.9V757.6M806.75 760.9V757.6M895.73 760.9V757.6M984.7 760.9V757.6M1073.66 760.9V757.6M673.3 760.9H679.3M673.3 697.99H679.3M673.3 635.08H679.3M673.3 572.17H679.3M673.3 509.26H679.3M673.3 446.35H679.3M673.3 729.44H676.6M673.3 666.53H676.6M673.3 603.62H676.6M673.3 540.72H676.6M673.3 477.81H676.6" stroke="#000" stroke-width="2.6" fill="none"/>
<rect x="673.3" y="446.35" width="444.85" height="314.55" fill="none" stroke="#000" stroke-width="2.7" stroke-linejoin="bevel"/>
<g clip-path="url(#c5)">
<g fill="#ff0000"><circle cx="673.3" cy="485.1" r="4"/><circle cx="695.54" cy="490.4" r="4"/><circle cx="717.78" cy="485.1" r="4"/><circle cx="740.03" cy="487.7" r="4"/><circle cx="762.27" cy="490.1" r="4"/><circle cx="784.51" cy="492.5" r="4"/><circle cx="806.75" cy="491.5" r="4"/><circle cx="829" cy="490.4" r="4"/><circle cx="851.24" cy="493.1" r="4"/><circle cx="873.48" cy="492" r="4"/><circle cx="895.73" cy="490.9" r="4"/><circle cx="917.97" cy="494.4" r="4"/><circle cx="940.21" cy="493.6" r="4"/><circle cx="962.45" cy="492" r="4"/><circle cx="984.7" cy="490.9" r="4"/><circle cx="1006.94" cy="491.5" r="4"/><circle cx="1029.18" cy="490.4" r="4"/><circle cx="1051.42" cy="489.9" r="4"/><circle cx="1073.66" cy="489.3" r="4"/><circle cx="1095.91" cy="490.9" r="4"/><circle cx="1118.15" cy="491.7" r="4"/></g>
<g fill="#000000"><circle cx="695.54" cy="694.95" r="4"/><circle cx="717.78" cy="694.15" r="4"/><circle cx="740.03" cy="695.5" r="4"/><circle cx="762.27" cy="694.7" r="4"/><circle cx="784.51" cy="696.3" r="4"/><circle cx="806.75" cy="697.4" r="4"/><circle cx="829" cy="695.75" r="4"/><circle cx="851.24" cy="694.7" r="4"/><circle cx="873.48" cy="697.9" r="4"/><circle cx="895.73" cy="691.75" r="4"/><circle cx="917.97" cy="692.8" r="4"/><circle cx="940.21" cy="693.9" r="4"/><circle cx="962.45" cy="692.3" r="4"/><circle cx="984.7" cy="691.75" r="4"/><circle cx="1006.94" cy="693.35" r="4"/><circle cx="1029.18" cy="693.9" r="4"/><circle cx="1051.42" cy="694.7" r="4"/><circle cx="1073.66" cy="697.9" r="4"/><circle cx="1095.91" cy="694.7" r="4"/><circle cx="1118.15" cy="693.9" r="4"/></g>
</g>
<text x="674.8" y="792.2" font-size="34.2" text-anchor="middle">0</text>
<text x="763.77" y="792.2" font-size="34.2" text-anchor="middle">4</text>
<text x="852.74" y="792.2" font-size="34.2" text-anchor="middle">8</text>
<text x="941.71" y="792.2" font-size="34.2" text-anchor="middle">12</text>
<text x="1030.68" y="792.2" font-size="34.2" text-anchor="middle">16</text>
<text x="1119.65" y="792.2" font-size="34.2" text-anchor="middle">20</text>
<text x="666.6" y="771.35" font-size="34.2" text-anchor="end">5</text>
<text x="666.6" y="708.44" font-size="34.2" text-anchor="end">10</text>
<text x="666.6" y="645.53" font-size="34.2" text-anchor="end">15</text>
<text x="666.6" y="582.62" font-size="34.2" text-anchor="end">20</text>
<text x="666.6" y="519.71" font-size="34.2" text-anchor="end">25</text>
<text x="666.6" y="456.8" font-size="34.2" text-anchor="end">30</text>
<text x="905.7" y="821.4" font-size="34.3" text-anchor="middle">Soaking cycle</text>
<text transform="translate(621.6 596) rotate(-90)" font-size="32.9" text-anchor="middle">Reflectance (%)</text>
<text x="697" y="476.9" font-size="32" text-anchor="start">d=90 μm at 470 nm</text>
<text x="571" y="450" font-size="44.5" text-anchor="start">(e)</text>
<circle cx="1005.5" cy="587.9" r="4" fill="#ff0000"/>
<circle cx="1005.5" cy="627.5" r="4" fill="#000000"/>
<text x="1031.9" y="593" font-size="34.6" text-anchor="start">white</text>
<text x="1031.9" y="632.7" font-size="34.6" text-anchor="start">red</text>
</g>
<g>
<clipPath id="c6"><rect x="1241.4" y="449.1" width="445.35" height="313.8"/></clipPath>
<path d="M1241.7 762.6V756.6M1330.65 762.6V756.6M1419.6 762.6V756.6M1508.55 762.6V756.6M1597.5 762.6V756.6M1686.45 762.6V756.6M1286.17 762.6V759.3M1375.12 762.6V759.3M1464.08 762.6V759.3M1553.03 762.6V759.3M1641.98 762.6V759.3M1241.7 723.45H1247.7M1241.7 645.15H1247.7M1241.7 566.85H1247.7M1241.7 488.55H1247.7M1241.7 762.6H1245M1241.7 684.3H1245M1241.7 606H1245M1241.7 527.7H1245M1241.7 449.4H1245" stroke="#000" stroke-width="2.6" fill="none"/>
<rect x="1241.7" y="449.4" width="444.75" height="313.2" fill="none" stroke="#000" stroke-width="2.7" stroke-linejoin="bevel"/>
<g clip-path="url(#c6)">
<g fill="#ff0000"><circle cx="1241.7" cy="510.5" r="4"/><circle cx="1263.94" cy="510.5" r="4"/><circle cx="1286.17" cy="510.2" r="4"/><circle cx="1308.41" cy="509.95" r="4"/><circle cx="1330.65" cy="509.4" r="4"/><circle cx="1352.89" cy="509.4" r="4"/><circle cx="1375.12" cy="509.95" r="4"/><circle cx="1397.36" cy="510.2" r="4"/><circle cx="1419.6" cy="510.5" r="4"/><circle cx="1441.84" cy="510.5" r="4"/><circle cx="1464.08" cy="510.2" r="4"/><circle cx="1486.31" cy="509.7" r="4"/><circle cx="1508.55" cy="509.4" r="4"/><circle cx="1530.79" cy="509.95" r="4"/><circle cx="1553.03" cy="509.15" r="4"/><circle cx="1575.26" cy="509.4" r="4"/><circle cx="1597.5" cy="509.7" r="4"/><circle cx="1619.74" cy="509.95" r="4"/><circle cx="1641.98" cy="510.2" r="4"/><circle cx="1664.21" cy="510.2" r="4"/><circle cx="1686.45" cy="509.7" r="4"/></g>
<g fill="#000000"><circle cx="1241.7" cy="697.9" r="4"/><circle cx="1263.94" cy="698.2" r="4"/><circle cx="1286.17" cy="697.9" r="4"/><circle cx="1308.41" cy="697.9" r="4"/><circle cx="1330.65" cy="698.7" r="4"/><circle cx="1352.89" cy="699.2" r="4"/><circle cx="1375.12" cy="697.9" r="4"/><circle cx="1397.36" cy="697.6" r="4"/><circle cx="1419.6" cy="697.1" r="4"/><circle cx="1441.84" cy="697.6" r="4"/><circle cx="1464.08" cy="697.9" r="4"/><circle cx="1486.31" cy="698.4" r="4"/><circle cx="1508.55" cy="697.9" r="4"/><circle cx="1530.79" cy="697.6" r="4"/><circle cx="1553.03" cy="697.4" r="4"/><circle cx="1575.26" cy="697.1" r="4"/><circle cx="1597.5" cy="697.1" r="4"/><circle cx="1619.74" cy="697.4" r="4"/><circle cx="1641.98" cy="697.6" r="4"/><circle cx="1664.21" cy="697.9" r="4"/><circle cx="1686.45" cy="698.2" r="4"/></g>
</g>
<text x="1241.5" y="794.6" font-size="34.2" text-anchor="middle">0</text>
<text x="1330.45" y="794.6" font-size="34.2" text-anchor="middle">4</text>
<text x="1419.4" y="794.6" font-size="34.2" text-anchor="middle">8</text>
<text x="1508.35" y="794.6" font-size="34.2" text-anchor="middle">12</text>
<text x="1597.3" y="794.6" font-size="34.2" text-anchor="middle">16</text>
<text x="1686.25" y="794.6" font-size="34.2" text-anchor="middle">20</text>
<text x="1233.1" y="733.2" font-size="34.2" text-anchor="end">10</text>
<text x="1233.1" y="654.9" font-size="34.2" text-anchor="end">20</text>
<text x="1233.1" y="576.6" font-size="34.2" text-anchor="end">30</text>
<text x="1233.1" y="498.3" font-size="34.2" text-anchor="end">40</text>
<text x="1473" y="823.1" font-size="33.5" text-anchor="middle">Soaking cycle</text>
<text transform="translate(1186.8 600) rotate(-90)" font-size="33.5" text-anchor="middle">Reflectance (%)</text>
<text x="1284.4" y="483.1" font-size="32" text-anchor="start">d=90 μm at 615 nm</text>
<text x="1136.8" y="451.4" font-size="44.5" text-anchor="start">(f)</text>
<circle cx="1577" cy="587.4" r="4" fill="#ff0000"/>
<circle cx="1577" cy="627.9" r="4" fill="#000000"/>
<text x="1602.7" y="593" font-size="33.5" text-anchor="start">white</text>
<text x="1602.7" y="633.5" font-size="33.5" text-anchor="start">green</text>
</g>
</svg></body></html>
